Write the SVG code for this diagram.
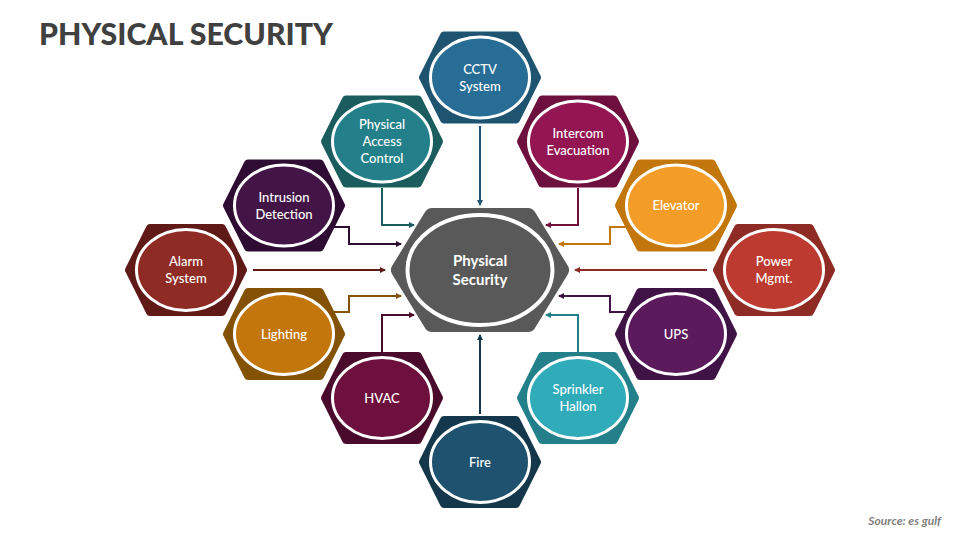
<svg xmlns="http://www.w3.org/2000/svg" width="960" height="540" viewBox="0 0 960 540">
<style>
text{font-family:"Lato","Carlito","Liberation Sans",sans-serif;text-anchor:middle}
.t{font-size:13px;font-weight:500;fill:#fff}
.title{font-size:30.3px;font-weight:900;fill:#404040;text-anchor:start}
.src{font-size:12px;font-weight:700;font-style:italic;fill:#7f7f7f;text-anchor:end}
.h{stroke-width:8;stroke-linejoin:round}
.e{stroke:#fff;stroke-width:3}
.c{fill:none;stroke-width:2}
</style>
<defs>
<polygon id="hex" points="57,0 36,42 -36,42 -57,0 -36,-42 36,-42"/>
<marker id="a1" markerWidth="8" markerHeight="8" refX="5" refY="3" orient="auto" markerUnits="userSpaceOnUse"><path d="M0,0L6,3L0,6z" fill="context-stroke"/></marker>
</defs>
<text class="title" x="39" y="45">PHYSICAL SECURITY</text>
<g id="connectors">
<path class="c" stroke="#1F5470" marker-end="url(#a1)" d="M480,126V205"/>
<path class="c" stroke="#1B5C5E" marker-end="url(#a1)" d="M382,188V225H414"/>
<path class="c" stroke="#2E0D33" marker-end="url(#a1)" d="M333,227H349V244H401"/>
<path class="c" stroke="#5F1A17" marker-end="url(#a1)" d="M253,270H385"/>
<path class="c" stroke="#835204" marker-end="url(#a1)" d="M333,312H349V296H401"/>
<path class="c" stroke="#4A0A2B" marker-end="url(#a1)" d="M382,352V315H414"/>
<path class="c" stroke="#14374C" marker-end="url(#a1)" d="M480,414V335"/>
<path class="c" stroke="#23808A" marker-end="url(#a1)" d="M578,352V315H546"/>
<path class="c" stroke="#3F1345" marker-end="url(#a1)" d="M627,312H610V296H559"/>
<path class="c" stroke="#8E2B24" marker-end="url(#a1)" d="M707,270H575"/>
<path class="c" stroke="#C3760B" marker-end="url(#a1)" d="M627,227H610V244H559"/>
<path class="c" stroke="#6E103D" marker-end="url(#a1)" d="M578,188V225H546"/>
</g>
<g id="n-center" transform="translate(480,270)">
<polygon points="81,0 48,54 -48,54 -81,0 -48,-54 48,-54" fill="#595959" stroke="#595959" stroke-width="16" stroke-linejoin="round"/>
<ellipse rx="72.5" ry="55" fill="#595959" stroke="#fff" stroke-width="4"/>
<text x="0" y="-4" font-size="15" font-weight="700" fill="#fff">Physical</text>
<text x="0" y="15" font-size="15" font-weight="700" fill="#fff">Security</text>
</g>
<g id="n-cctv" transform="translate(480,77.5)">
<use href="#hex" class="h" fill="#1F5470" stroke="#1F5470"/><ellipse class="e" rx="49.5" ry="40.5" fill="#276D96"/>
<text class="t" y="-4">CCTV</text><text class="t" y="13">System</text>
</g>
<g id="n-access" transform="translate(382,141.5)">
<use href="#hex" class="h" fill="#1B5C5E" stroke="#1B5C5E"/><ellipse class="e" rx="49.5" ry="40.5" fill="#23808A"/>
<text class="t" y="-13">Physical</text><text class="t" y="4">Access</text><text class="t" y="21">Control</text>
</g>
<g id="n-intrusion" transform="translate(284,205.5)">
<use href="#hex" class="h" fill="#2E0D33" stroke="#2E0D33"/><ellipse class="e" rx="49.5" ry="40.5" fill="#431546"/>
<text class="t" y="-4">Intrusion</text><text class="t" y="13">Detection</text>
</g>
<g id="n-alarm" transform="translate(186,270)">
<use href="#hex" class="h" fill="#5F1A17" stroke="#5F1A17"/><ellipse class="e" rx="49.5" ry="40.5" fill="#8E2B24"/>
<text class="t" y="-4">Alarm</text><text class="t" y="13">System</text>
</g>
<g id="n-lighting" transform="translate(284,334)">
<use href="#hex" class="h" fill="#835204" stroke="#835204"/><ellipse class="e" rx="49.5" ry="40.5" fill="#C3760B"/>
<text class="t" y="5">Lighting</text>
</g>
<g id="n-hvac" transform="translate(382,398)">
<use href="#hex" class="h" fill="#4A0A2B" stroke="#4A0A2B"/><ellipse class="e" rx="49.5" ry="40.5" fill="#6E103D"/>
<text class="t" y="5">HVAC</text>
</g>
<g id="n-fire" transform="translate(480,462)">
<use href="#hex" class="h" fill="#14374C" stroke="#14374C"/><ellipse class="e" rx="49.5" ry="40.5" fill="#1F526F"/>
<text class="t" y="5">Fire</text>
</g>
<g id="n-sprinkler" transform="translate(578,398)">
<use href="#hex" class="h" fill="#23808A" stroke="#23808A"/><ellipse class="e" rx="49.5" ry="40.5" fill="#2FABB9"/>
<text class="t" y="-4">Sprinkler</text><text class="t" y="13">Hallon</text>
</g>
<g id="n-ups" transform="translate(676,334)">
<use href="#hex" class="h" fill="#3F1345" stroke="#3F1345"/><ellipse class="e" rx="49.5" ry="40.5" fill="#5A1A5C"/>
<text class="t" y="5">UPS</text>
</g>
<g id="n-power" transform="translate(774,270)">
<use href="#hex" class="h" fill="#8E2B24" stroke="#8E2B24"/><ellipse class="e" rx="49.5" ry="40.5" fill="#BC3A30"/>
<text class="t" y="-4">Power</text><text class="t" y="13">Mgmt.</text>
</g>
<g id="n-elevator" transform="translate(676,205.5)">
<use href="#hex" class="h" fill="#C3760B" stroke="#C3760B"/><ellipse class="e" rx="49.5" ry="40.5" fill="#F39C27"/>
<text class="t" y="4">Elevator</text>
</g>
<g id="n-intercom" transform="translate(578,141.5)">
<use href="#hex" class="h" fill="#6E103D" stroke="#6E103D"/><ellipse class="e" rx="49.5" ry="40.5" fill="#931552"/>
<text class="t" y="-4">Intercom</text><text class="t" y="13">Evacuation</text>
</g>
<text class="src" x="941" y="525">Source: es gulf</text>
</svg>
